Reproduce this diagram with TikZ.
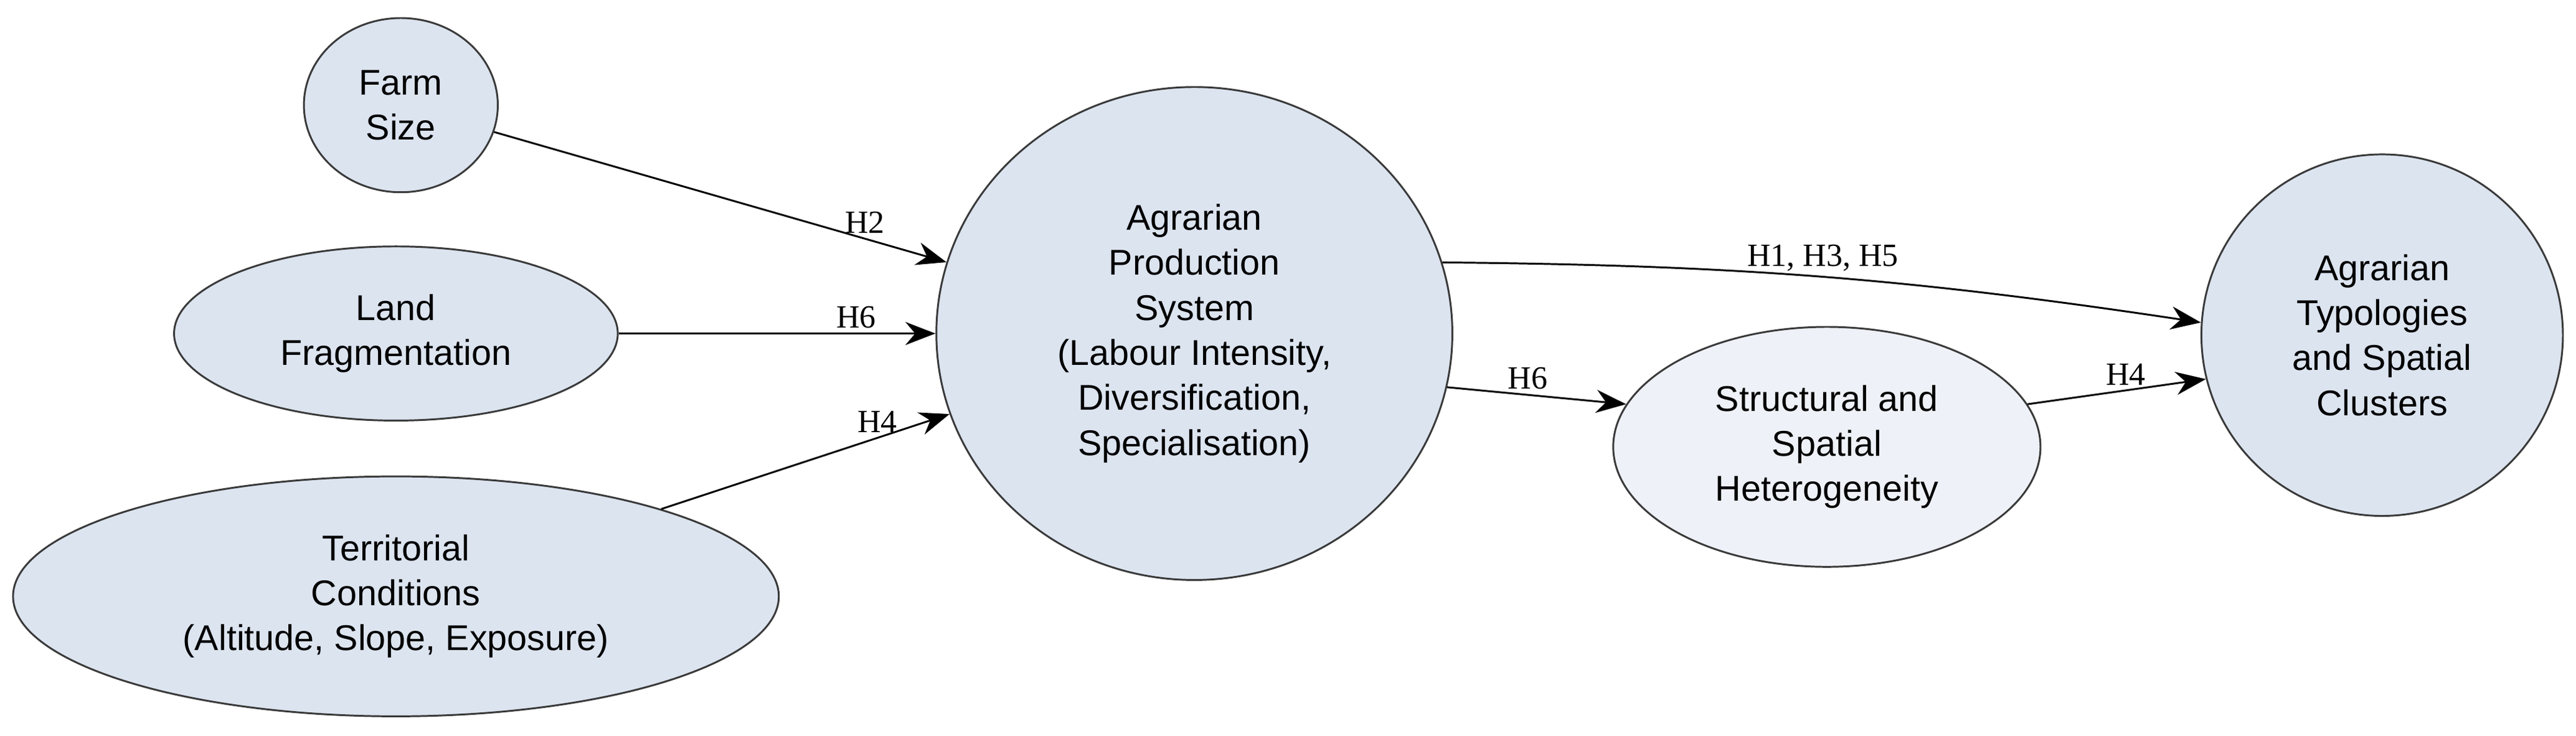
\documentclass[tikz,border=0pt]{standalone}
\usepackage{fontspec}
\setmainfont{Liberation Serif}
\newfontfamily\nodefont{Liberation Sans}
\usetikzlibrary{arrows.meta,shapes.geometric}
\definecolor{boxfill}{HTML}{DCE4F0}
\definecolor{lightfill}{HTML}{EEF1F7}
\definecolor{boxline}{HTML}{3A3A3A}

\begin{document}
\begin{tikzpicture}[x=0.025cm,y=-0.025cm]
    \useasboundingbox (0,0) rectangle (1568,448);
    \begin{scope}[every node/.style={ellipse,draw=boxline,thick,fill=boxfill,inner sep=0pt,align=center,
        font=\nodefont\fontsize{15.5}{19.5}\selectfont}]
        \node[minimum width=2.95cm,minimum height=2.65cm] (fs) at (244,64) {Farm\\Size};
        \node[minimum width=6.75cm,minimum height=2.65cm] (lf) at (241,203) {Land\\Fragmentation};
        \node[minimum width=11.65cm,minimum height=3.65cm] (tc) at (241,363) {Territorial\\Conditions\\(Altitude, Slope, Exposure)};
        \node[minimum width=7.85cm,minimum height=7.5cm] (aps) at (727,203) {Agrarian\\Production\\System\\(Labour Intensity,\\Diversification,\\Specialisation)};
        \node[minimum width=6.5cm,minimum height=3.65cm,fill=lightfill] (sh) at (1112,272) {Structural and\\Spatial\\Heterogeneity};
        \node[minimum width=5.5cm,minimum height=5.5cm] (typ) at (1450,204) {Agrarian\\Typologies\\and Spatial\\Clusters};
    \end{scope}
    \begin{scope}[
        every node/.style={font=\fontsize{14}{16}\selectfont,inner sep=2pt},
        every edge/.style={-{Stealth[length=13pt,width=10pt]},draw=black,thick}]
        \path (fs) edge node[pos=0.82,above] {H2} (aps);
        \path (lf) edge node[pos=0.75,above] {H6} (aps);
        \path (tc) edge node[pos=0.75,above] {H4} (aps);
        \path (aps.16) edge[bend left=4] node[midway,above] {H1, H3, H5} (typ.176);
        \path (aps.-12) edge node[pos=0.45,above] {H6} (sh.168);
        \path (sh.12) edge node[pos=0.55,above] {H4} (typ.-166);
    \end{scope}
\end{tikzpicture}
\end{document}
